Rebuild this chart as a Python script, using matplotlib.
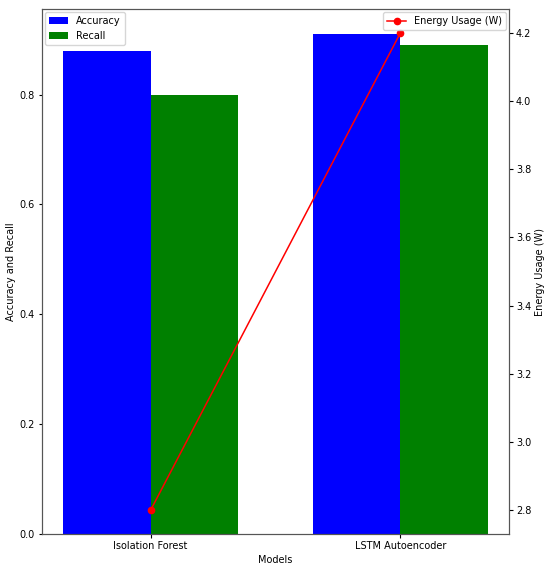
import matplotlib
matplotlib.use("Agg")
import matplotlib.pyplot as plt
import numpy as np

models = ["Isolation Forest", "LSTM Autoencoder"]
accuracy = [0.88, 0.91]
recall = [0.80, 0.89]
energy = [2.8, 4.2]

s = 0.72
plt.rcParams['font.size'] = 7.0
plt.rcParams['xtick.major.size'] = 3.5 * s
plt.rcParams['ytick.major.size'] = 3.5 * s
plt.rcParams['xtick.major.pad'] = 3.5 * s
plt.rcParams['ytick.major.pad'] = 3.5 * s
plt.rcParams['axes.labelpad'] = 4.0 * s
plt.rcParams['axes.edgecolor'] = '#555555'

fig = plt.figure(figsize=(5.5, 5.69), dpi=100)
ax = fig.add_axes([0.0764, 0.0615, 0.849, 0.9225])
x = np.arange(len(models))
w = 0.35
ax.bar(x - w/2, accuracy, w, color='blue', label='Accuracy')
ax.bar(x + w/2, recall, w, color='green', label='Recall')
ax.set_xticks(x)
ax.set_xticklabels(models)
ax.set_xlabel('Models')
ax.set_ylabel('Accuracy and Recall')
ax.legend(loc='upper left', borderaxespad=0.3)

ax2 = ax.twinx()
ax2.plot(x, energy, color='red', marker='o', markersize=4.5, linewidth=1.1, label='Energy Usage (W)')
ax2.set_ylabel('Energy Usage (W)')
ax2.legend(loc='upper right', borderaxespad=0.3)

fig.savefig('out.png', dpi=100)
